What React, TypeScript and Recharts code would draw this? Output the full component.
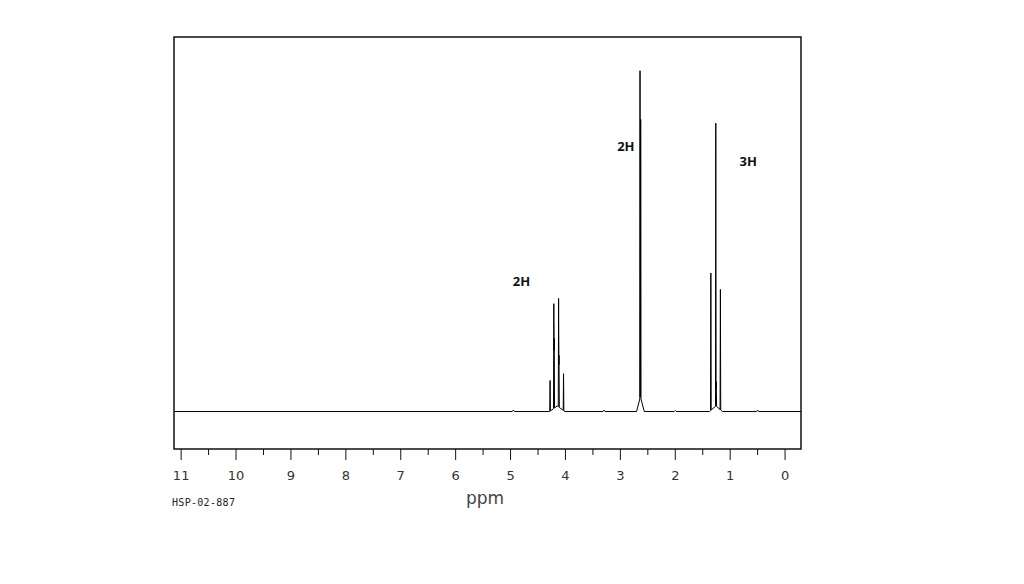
import { LineChart, Line, XAxis, YAxis, ReferenceArea } from "recharts";

// peak list (ppm, relative height, half-width in ppm)
const peakPpm = [4.28, 4.212, 4.205, 4.125, 4.118, 4.035, 4.15, 2.642, 2.632, 2.628, 2.635, 1.352, 1.262, 1.255, 1.178, 1.26, 4.95, 3.3, 2.0, 0.5];
const peakHeight = [8.3, 28.8, 19.5, 30.2, 15, 10.1, 1.5, 91, 78, 78, 4, 37, 77, 8, 32.6, 1.5, 0.4, 0.4, 0.3, 0.4];
const peakWidth = [0.006, 0.006, 0.006, 0.006, 0.006, 0.006, 0.14, 0.004, 0.004, 0.004, 0.07, 0.006, 0.005, 0.008, 0.006, 0.12, 0.02, 0.02, 0.02, 0.02];

const majorTicks = [11, 10, 9, 8, 7, 6, 5, 4, 3, 2, 1, 0];
const minorTicks = [10.5, 9.5, 8.5, 7.5, 6.5, 5.5, 4.5, 3.5, 2.5, 1.5, 0.5];

const integrals = [
  { text: "2H", ppm: 4.8, y: 34.8 },
  { text: "2H", ppm: 2.9, y: 70.8 },
  { text: "3H", ppm: 0.67, y: 66.8 },
];

const xMin = -0.29;
const xMax = 11.13;

// each line is a narrow triangle; overlapping lines take the larger value
const intensityAt = (x: number) =>
  peakPpm.reduce((top, p, i) => {
    const d = Math.abs(x - p) / peakWidth[i];
    return d < 1 ? Math.max(top, peakHeight[i] * (1 - d)) : top;
  }, 0);

const xs = [xMin, xMax];
peakPpm.forEach((p, i) => xs.push(p, p - peakWidth[i], p + peakWidth[i]));
xs.sort((a, b) => a - b);
const spectrum = xs.map((x) => ({ ppm: x, y: intensityAt(x) }));

const AxisTick = (props: any) => {
  const { x, y, payload } = props;
  const major = Number.isInteger(payload.value);
  return (
    <g>
      <line x1={x} y1={y} x2={x} y2={y + (major ? 11 : 6)} stroke="#111" strokeWidth={1} />
      {major && (
        <text x={x} y={y + 26} textAnchor="middle" dominantBaseline="central" fontFamily="DejaVu Sans" fontSize={13} fill="#333">
          {payload.value}
        </text>
      )}
    </g>
  );
};

const IntegralLabel = (props: any) => {
  const { viewBox, value } = props;
  return (
    <text x={viewBox.x} y={viewBox.y} textAnchor="middle" dominantBaseline="central" fontFamily="Open Sans" fontWeight={700} fontSize={13} fill="#111">
      {value}
    </text>
  );
};

export default function App() {
  return (
    <div style={{ position: "fixed", left: 0, top: 0, width: 1024, height: 584, background: "#fff" }}>
      <LineChart width={1024} height={584} data={spectrum} margin={{ top: 37, left: 174, right: 223, bottom: 95 }}>
        <XAxis
          dataKey="ppm"
          type="number"
          domain={[xMin, xMax]}
          reversed
          allowDataOverflow
          ticks={[...majorTicks, ...minorTicks]}
          interval={0}
          axisLine={false}
          tickLine={false}
          tickSize={0}
          tickMargin={0}
          height={40}
          tick={<AxisTick />}
        />
        <YAxis type="number" domain={[-10, 100]} hide allowDataOverflow />
        <ReferenceArea x1={xMin} x2={xMax} y1={-10} y2={100} fill="none" stroke="#111" strokeWidth={1.5} fillOpacity={0} />
        <Line type="linear" dataKey="y" stroke="#000" strokeWidth={1} dot={false} isAnimationActive={false} />
        {integrals.map((d, i) => (
          <ReferenceArea key={i} x1={d.ppm} x2={d.ppm} y1={d.y} y2={d.y} fill="none" stroke="none" label={<IntegralLabel value={d.text} />} />
        ))}
      </LineChart>
      <div style={{ position: "absolute", left: 172, top: 497, fontFamily: "DejaVu Sans Mono", fontSize: 10, letterSpacing: 0.3, color: "#222" }}>HSP-02-887</div>
      <div style={{ position: "absolute", left: 466, top: 488, fontFamily: "DejaVu Sans", fontSize: 17, color: "#444" }}>ppm</div>
    </div>
  );
}
